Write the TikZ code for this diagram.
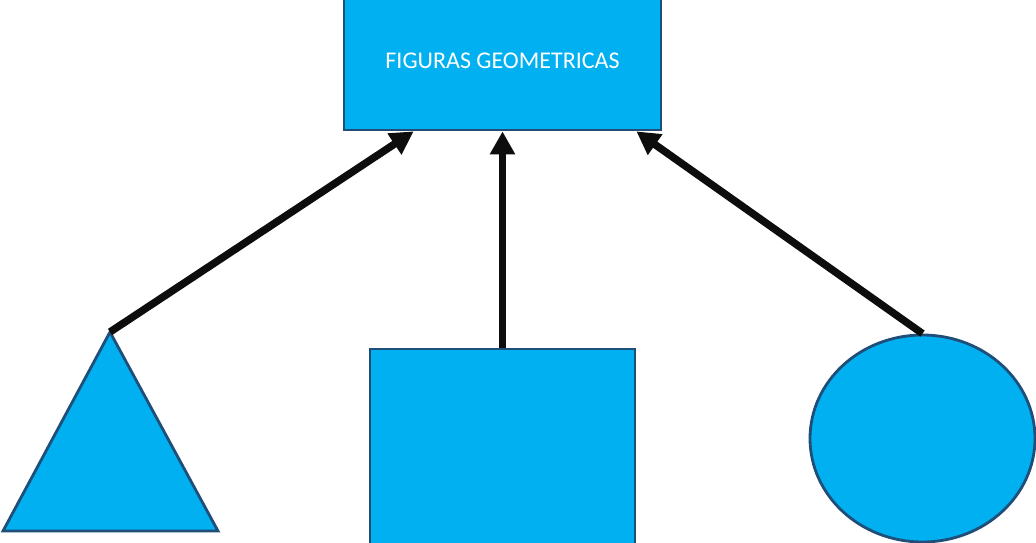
\documentclass[tikz,border=0pt]{standalone}
\usepackage{fontspec}
\setmainfont{Carlito}
\usetikzlibrary{shapes.geometric,arrows.meta}
\definecolor{shapefill}{HTML}{00B0F0}
\definecolor{shapeline}{HTML}{1F4E79}
\definecolor{arrowcol}{HTML}{0D0D0D}
\begin{document}
\begin{tikzpicture}[x=1pt,y=-1pt,
  shapestyle/.style={draw=shapeline,fill=shapefill,line width=2.8pt},
  linkarrow/.style={draw=arrowcol,line width=7.5pt,-{Triangle[length=23pt,width=24pt]}}]
\useasboundingbox (0,0) rectangle (1036,543);
\clip (0,0) rectangle (1036,543);
\node[shapestyle,rectangle,minimum width=317pt,minimum height=138pt,inner sep=0pt,
  text=white,font=\fontsize{24}{29}\selectfont] (top) at (502.5,61) {FIGURAS GEOMETRICAS};
\node[shapestyle,rectangle,minimum width=265pt,minimum height=230pt,inner sep=0pt] (square) at (502.5,464) {};
\node[shapestyle,ellipse,minimum width=225pt,minimum height=207pt,inner sep=0pt] (circ) at (922.5,438.5) {};
\coordinate (triapex) at (110,332);
\coordinate (trileft) at (3,531);
\coordinate (triright) at (218,531);
\path[shapestyle,line join=miter] (triapex) -- (triright) -- (trileft) -- cycle;
\coordinate (topleftin) at ([xshift=71pt]top.south west);
\coordinate (toprightin) at ([xshift=-26pt]top.south east);
\draw[linkarrow] (triapex) -- (topleftin);
\draw[linkarrow] (square.north) -- (top.south);
\draw[linkarrow] (circ.north) -- (toprightin);
\end{tikzpicture}
\end{document}
